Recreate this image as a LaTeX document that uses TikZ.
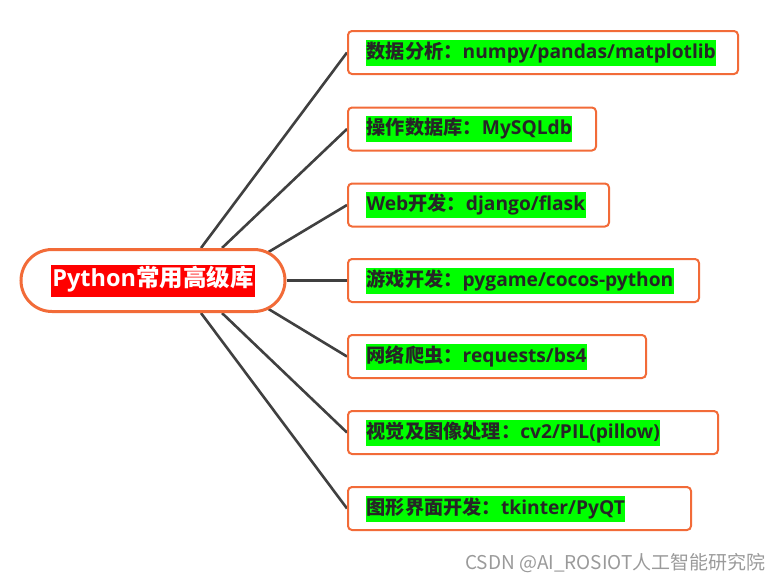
\documentclass[tikz,border=0pt]{standalone}
\usepackage{fontspec}
\setmainfont{Open Sans}
\newfontfamily\cjkf{Noto Sans CJK SC}
\newcommand\zh[1]{{\cjkf #1}}
\usetikzlibrary{backgrounds}
\definecolor{orng}{HTML}{F26B38}
\definecolor{hlgreen}{HTML}{00FF00}
\definecolor{txtdark}{HTML}{262626}
\definecolor{linegray}{HTML}{404040}
\definecolor{wmgray}{HTML}{9A9A9A}
\begin{document}
\begin{tikzpicture}[x=1pt,y=-1pt,
  box/.style={draw=orng, line width=2pt, rounded corners=4pt, minimum height=43pt, inner sep=0pt, fill=white},
  hl/.style={fill=hlgreen, text=txtdark, font=\bfseries\fontsize{19.2}{23}\selectfont, inner xsep=0.5pt, inner ysep=0pt, minimum height=26pt, text height=15.5pt, text depth=4.5pt, anchor=west},
  link/.style={draw=linegray, line width=2.6pt}]
\useasboundingbox (0,0) rectangle (783,584);
% central node
\node[draw=orng, line width=3pt, rounded corners=31pt, minimum width=264pt, minimum height=62pt, fill=white] (c) at (153,280.5) {};
\node[fill=red, text=white, font=\bfseries\fontsize{23.5}{28}\selectfont, inner xsep=1.5pt, inner ysep=0pt, minimum height=32pt, text height=18pt, text depth=6pt] (ct) at (c) {Python\zh{常用高级库}};
% boxes
\node[box, minimum width=390pt] (b1) at (543,52.5) {};
\node[box, minimum width=248pt] (b2) at (472,129) {};
\node[box, minimum width=261pt] (b3) at (478.5,205) {};
\node[box, minimum width=351pt] (b4) at (523.5,280.5) {};
\node[box, minimum width=298pt] (b5) at (497,356.5) {};
\node[box, minimum width=370pt] (b6) at (533,432.5) {};
\node[box, minimum width=343pt] (b7) at (519.5,508.5) {};
\node[hl] (t1) at ([xshift=19pt]b1.west) {\zh{数据分析：}numpy/pandas/matplotlib};
\node[hl] (t2) at ([xshift=19pt]b2.west) {\zh{操作数据库：}MySQLdb};
\node[hl] (t3) at ([xshift=19pt]b3.west) {Web\zh{开发：}django/flask};
\node[hl] (t4) at ([xshift=19pt]b4.west) {\zh{游戏开发：}pygame/cocos-python};
\node[hl] (t5) at ([xshift=19pt]b5.west) {\zh{网络爬虫：}requests/bs4};
\node[hl] (t6) at ([xshift=19pt]b6.west) {\zh{视觉及图像处理：}cv2/PIL(pillow)};
\node[hl] (t7) at ([xshift=19pt]b7.west) {\zh{图形界面开发：}tkinter/PyQT};
% start points on central node
\coordinate (s1) at ([xshift=48pt]c.north);
\coordinate (s2) at ([xshift=69pt]c.north);
\coordinate (s3) at ([xshift=-18pt,yshift=-4pt]c.north east);
\coordinate (s4) at (c.east);
\coordinate (s5) at ([xshift=-18pt,yshift=4pt]c.south east);
\coordinate (s6) at ([xshift=69pt]c.south);
\coordinate (s7) at ([xshift=48pt]c.south);
\begin{scope}[on background layer]
\draw[link] (s1) -- (b1.west);
\draw[link] (s2) -- (b2.west);
\draw[link] (s3) -- (b3.west);
\draw[link] (s4) -- (b4.west);
\draw[link] (s5) -- (b5.west);
\draw[link] (s6) -- (b6.west);
\draw[link] (s7) -- (b7.west);
\end{scope}
% watermark
\node[anchor=east, text=wmgray, font=\cjkf\fontsize{19}{22}\selectfont, inner sep=0pt] (wm) at (766,563) {CSDN @AI\_ROSIOT人工智能研究院};
\end{tikzpicture}
\end{document}
